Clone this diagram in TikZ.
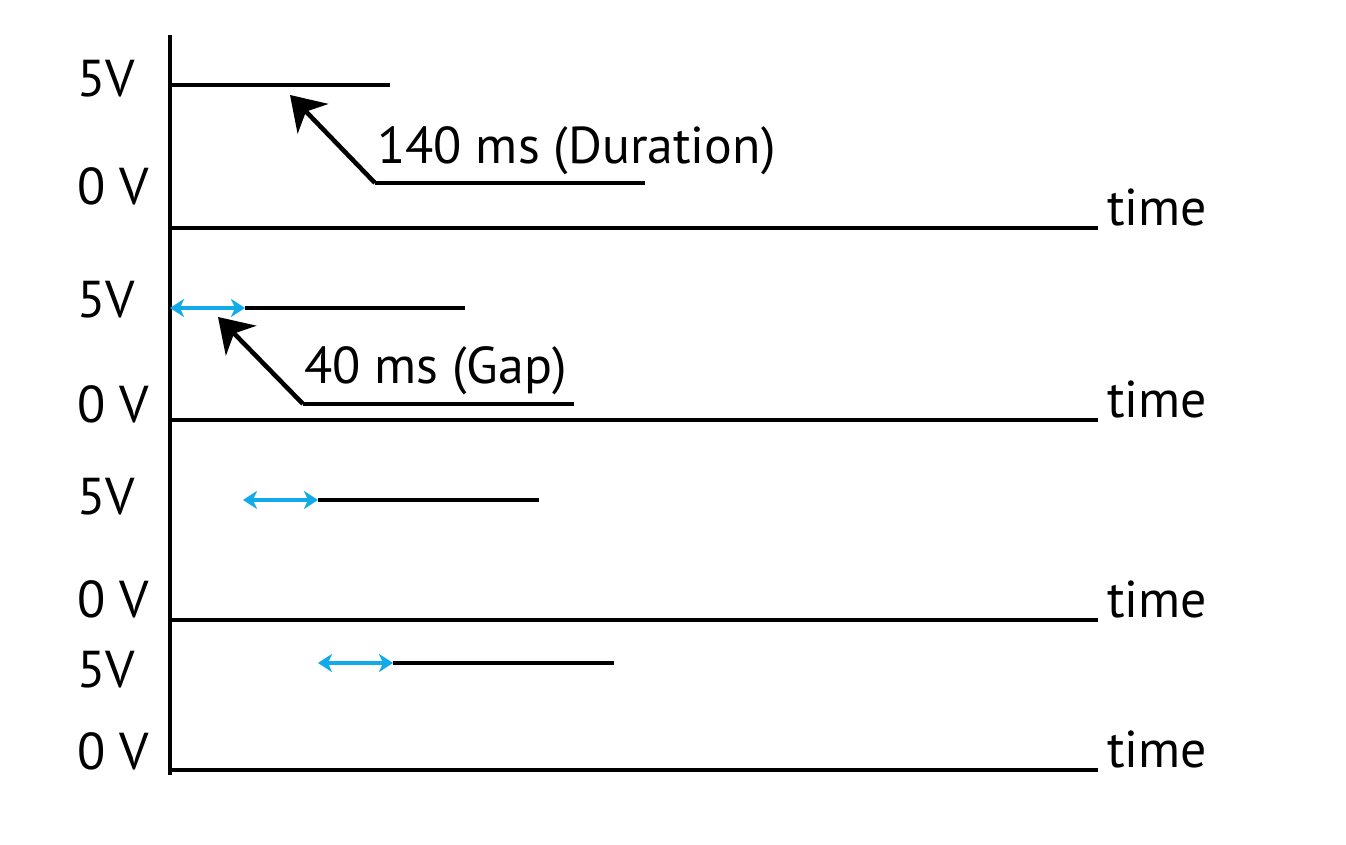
\documentclass[tikz,border=0pt]{standalone}
\usepackage{fontspec}
\setmainfont{PT Sans}
\usepackage{xcolor}
\usetikzlibrary{arrows.meta, positioning}
\definecolor{gapblue}{RGB}{18,170,232}

\begin{document}
\begin{tikzpicture}[
    sig/.style={line width=2.6pt},
    lbl/.style={anchor=base west, inner sep=0pt, font=\fontsize{29.5}{34}\selectfont},
    pointer/.style={line width=2.6pt, -{Stealth[length=0.66cm, width=0.85cm, inset=0.2cm]}},
    gap/.style={gapblue, line width=2pt, {Stealth[length=0.28cm, width=0.36cm, inset=0.08cm]}-{Stealth[length=0.28cm, width=0.36cm, inset=0.08cm]}}
  ]
  \useasboundingbox (0,0) rectangle (26.92,16.9);
  % axis
  \coordinate (top) at (3.4,16.2);
  \coordinate (bot) at (3.4,1.4);
  \draw[sig] (top) -- (bot);
  % voltage labels
  \node[lbl] (V5a) at (1.54,14.96) {5V};
  \node[lbl] (V0a) at (1.54,12.8) {0 V};
  \node[lbl] (V5b) at (1.54,10.54) {5V};
  \node[lbl] (V0b) at (1.54,8.44) {0 V};
  \node[lbl] (V5c) at (1.54,6.6) {5V};
  \node[lbl] (V0c) at (1.54,4.54) {0 V};
  \node[lbl] (V5d) at (1.54,3.14) {5V};
  \node[lbl] (V0d) at (1.54,1.5) {0 V};
  % time axes
  \foreach \n/\y in {a/12.34, b/8.5, c/4.5, d/1.5} {
    \coordinate (L\n) at (3.4,\y);
    \coordinate (R\n) at (21.96,\y);
    \draw[sig] (L\n) -- (R\n);
    \node[lbl] (T\n) at (22.14,\y+0.04) {time};
  }
  % pulses
  \coordinate (Pa1) at (3.4,15.2);
  \coordinate (Pa2) at (7.8,15.2);
  \draw[sig] (Pa1) -- (Pa2);
  \coordinate (Gb1) at (3.4,10.74);
  \coordinate (Pb1) at (4.9,10.74);
  \coordinate (Pb2) at (9.3,10.74);
  \draw[sig] (Pb1) -- (Pb2);
  \draw[gap] (Gb1) -- (Pb1);
  \coordinate (Gc1) at (4.86,6.9);
  \coordinate (Pc1) at (6.36,6.9);
  \coordinate (Pc2) at (10.78,6.9);
  \draw[sig] (Pc1) -- (Pc2);
  \draw[gap] (Gc1) -- (Pc1);
  \coordinate (Gd1) at (6.36,3.64);
  \coordinate (Pd1) at (7.86,3.64);
  \coordinate (Pd2) at (12.28,3.64);
  \draw[sig] (Pd1) -- (Pd2);
  \draw[gap] (Gd1) -- (Pd1);
  % callouts
  \coordinate (Da) at (7.5,13.24);
  \coordinate (Db) at (12.9,13.24);
  \coordinate (Dtip) at (5.8,15.0);
  \draw[sig] (Db) -- (Da);
  \draw[pointer] (Da) -- (Dtip);
  \node[lbl] (dur) at (7.54,13.62) {140 ms (Duration)};
  \coordinate (Ga) at (6.06,8.82);
  \coordinate (Gb) at (11.48,8.82);
  \coordinate (Gtip) at (4.36,10.56);
  \draw[sig] (Gb) -- (Ga);
  \draw[pointer] (Ga) -- (Gtip);
  \node[lbl] (gaplbl) at (6.08,9.22) {40 ms (Gap)};
\end{tikzpicture}
\end{document}
